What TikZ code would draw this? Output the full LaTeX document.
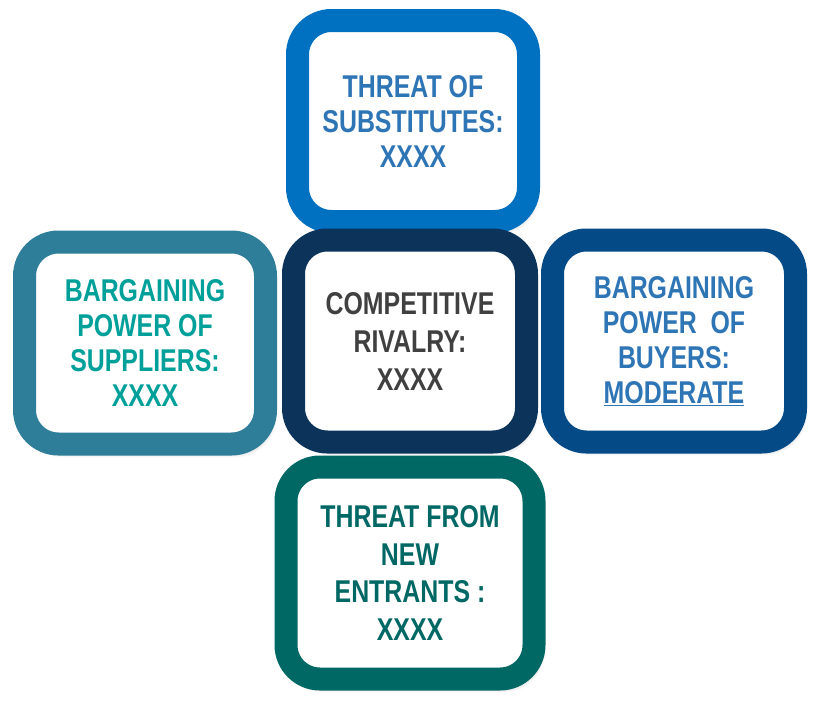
\documentclass[tikz,border=0pt]{standalone}
\usepackage{fontspec}
\usepackage{tikz}
\usetikzlibrary{shadows.blur}
\newfontfamily\forcefont{Liberation Sans}[FakeStretch=0.79]
\definecolor{subsblue}{RGB}{0,112,192}
\definecolor{suppteal}{RGB}{46,125,153}
\definecolor{rivalnavy}{RGB}{12,52,90}
\definecolor{buyblue}{RGB}{3,74,134}
\definecolor{entgreen}{RGB}{0,104,100}
\definecolor{txtblue}{RGB}{46,117,182}
\definecolor{txtteal}{RGB}{0,160,154}
\definecolor{txtgray}{RGB}{64,64,64}
\tikzset{force/.style={draw=#1,line width=23pt,fill=white,rounded corners=34pt,
    align=center,font=\forcefont\bfseries\fontsize{31.5}{35}\selectfont,
    blur shadow={shadow xshift=4pt,shadow yshift=-6pt,shadow blur steps=12,shadow blur radius=8pt,shadow opacity=40}}}

\begin{document}
\begin{tikzpicture}[x=1pt,y=-1pt]
            \useasboundingbox (0,0) rectangle (832,716);
            \node[force=subsblue,minimum width=231pt,minimum height=201pt,text=txtblue]
                (subs) at (413,121) {THREAT OF\\SUBSTITUTES:\\XXXX};
            \node[force=suppteal,minimum width=241pt,minimum height=202pt,text=txtteal]
                (supp) at (145,343) {BARGAINING\\POWER OF\\SUPPLIERS:\\XXXX};
            \node[force=buyblue,minimum width=243pt,minimum height=202pt,text=txtblue]
                (buy) at (674,341) {BARGAINING\\POWER\ \ OF\\BUYERS:\\\underline{MODERATE}};
            \node[force=entgreen,minimum width=248pt,minimum height=212pt,text=entgreen,
                font=\forcefont\bfseries\fontsize{31.5}{37.5}\selectfont]
                (ent) at (410,573) {THREAT FROM\\NEW\\ENTRANTS :\\XXXX};
            \node[force=rivalnavy,minimum width=233pt,minimum height=202pt,text=txtgray,
                font=\forcefont\bfseries\fontsize{31.5}{38}\selectfont]
                (rival) at (410,341) {COMPETITIVE\\RIVALRY:\\XXXX};
        \end{tikzpicture}
\end{document}
